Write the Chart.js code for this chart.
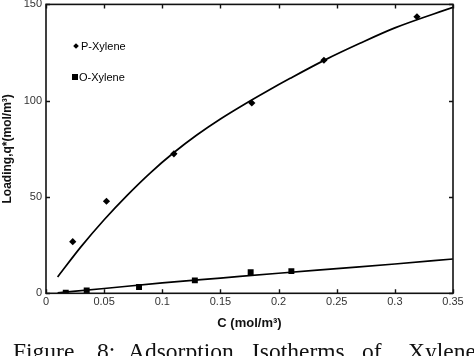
<!DOCTYPE html>
<html><head><meta charset="utf-8">
<script src="https://cdn.jsdelivr.net/npm/chart.js@4.4.1/dist/chart.umd.min.js"></script>
<style>
html,body{margin:0;padding:0;background:#fff;overflow:hidden;}
#wrap{position:relative;width:474px;height:356px;overflow:hidden;}
canvas{position:absolute;left:0;top:0;}
.leg{position:absolute;font:11px "Liberation Sans",Arial,sans-serif;color:#000;line-height:12px;white-space:nowrap;}
.mk{position:absolute;background:#000;}
.cap{position:absolute;top:339px;font:23.5px/24px "Liberation Serif","Times New Roman",serif;color:#111;white-space:nowrap;}
</style></head><body>
<div id="wrap">
<canvas id="c" width="474" height="356"></canvas>
<div class="mk" style="left:74px;top:44px;width:4px;height:4px;transform:rotate(45deg);"></div>
<div class="leg" style="left:81px;top:40px;">P-Xylene</div>
<div class="mk" style="left:72px;top:74px;width:6px;height:6px;"></div>
<div class="leg" style="left:79px;top:71px;">O-Xylene</div>
<div class="cap" style="left:13px;">Figure</div>
<div class="cap" style="left:97px;">8:</div>
<div class="cap" style="left:128px;">Adsorption</div>
<div class="cap" style="left:252px;">Isotherms</div>
<div class="cap" style="left:362px;">of</div>
<div class="cap" style="left:408px;">Xylene</div>
</div>
<script>
// Measured data (P-Xylene diamonds, O-Xylene squares)
const pxC = [0.023, 0.052, 0.110, 0.177, 0.239, 0.319];
const pxQ = [26.8, 47.8, 72.4, 98.8, 121.0, 143.6];
const oxC = [0.017, 0.035, 0.080, 0.128, 0.176, 0.211];
const oxQ = [0.3, 1.5, 3.3, 6.7, 10.9, 11.5];
// Fitted curves
const pFitC = [0.01, 0.03, 0.05, 0.07, 0.09, 0.11, 0.13, 0.15, 0.17, 0.19, 0.21, 0.24, 0.27, 0.30, 0.35];
const pFitQ = [8.5, 24.1, 38.2, 51.0, 62.7, 73.1, 82.3, 90.5, 97.9, 104.9, 111.6, 121.2, 129.8, 137.8, 148.5];
const oFitC = [0.01, 0.05, 0.1, 0.15, 0.2, 0.25, 0.3, 0.35];
const oFitQ = [0.2, 2.5, 5.4, 7.9, 10.4, 12.8, 15.2, 17.8];
// Ticks
const xTicks = [0, 0.05, 0.1, 0.15, 0.2, 0.25, 0.3, 0.35];
const xTickLabels = ['0', '0.05', '0.1', '0.15', '0.2', '0.25', '0.3', '0.35'];
const yTicks = [0, 50, 100, 150];
const yTickLabels = ['0', '50', '100', '150'];

const pts = (xs, ys) => xs.map((v, i) => ({x: v, y: ys[i]}));

const framePlugin = {
  id: 'frame',
  afterDatasetsDraw(chart) {
    const {ctx, chartArea: a, scales: {x, y}} = chart;
    ctx.save();
    ctx.strokeStyle = '#111';
    ctx.lineWidth = 1.6;
    ctx.strokeRect(a.left, a.top, a.right - a.left, a.bottom - a.top);
    ctx.lineWidth = 1.4;
    const L = 4;
    ctx.beginPath();
    x.ticks.forEach(t => {
      const px = Math.round(x.getPixelForValue(t.value)) + 0.5;
      ctx.moveTo(px, a.bottom); ctx.lineTo(px, a.bottom - L);
      ctx.moveTo(px, a.top); ctx.lineTo(px, a.top + L);
    });
    y.ticks.forEach(t => {
      const py = Math.round(y.getPixelForValue(t.value)) + 0.5;
      ctx.moveTo(a.left, py); ctx.lineTo(a.left + L, py);
      ctx.moveTo(a.right, py); ctx.lineTo(a.right - L, py);
    });
    ctx.stroke();
    ctx.restore();
  }
};

new Chart(document.getElementById('c'), {
  type: 'scatter',
  data: {
    datasets: [
      {label: 'P-Xylene', data: pts(pxC, pxQ), pointStyle: 'rectRot', pointRadius: 3.6,
       backgroundColor: '#000', borderColor: '#000', borderWidth: 0, showLine: false},
      {label: 'O-Xylene', data: pts(oxC, oxQ), pointStyle: 'rect', pointRadius: 4.2,
       backgroundColor: '#000', borderColor: '#000', borderWidth: 0, showLine: false},
      {label: 'P fit', data: pts(pFitC, pFitQ), showLine: true, pointRadius: 0, borderColor: '#000',
       borderWidth: 1.7, cubicInterpolationMode: 'monotone', fill: false},
      {label: 'O fit', data: pts(oFitC, oFitQ), showLine: true, pointRadius: 0, borderColor: '#000',
       borderWidth: 1.7, cubicInterpolationMode: 'monotone', fill: false}
    ]
  },
  options: {
    responsive: false,
    animation: false,
    devicePixelRatio: 1,
    layout: {autoPadding: false, padding: {left: 0, right: 21, top: 4.4, bottom: 25.2}},
    plugins: {legend: {display: false}, tooltip: {enabled: false}, title: {display: false}},
    scales: {
      x: {
        type: 'linear', min: 0, max: 0.35,
        afterBuildTicks: s => { s.ticks = xTicks.map(v => ({value: v})); },
        afterFit: s => { s.height = 37.5; s.paddingLeft = 0; s.paddingRight = 0; },
        ticks: {callback: (v, i) => xTickLabels[i], font: {family: '"Liberation Sans", Arial, sans-serif', size: 11},
                color: '#333', padding: 2, maxRotation: 0, autoSkip: false},
        grid: {display: false, drawTicks: false, tickLength: 0},
        border: {display: false},
        title: {display: true, text: 'C (mol/m³)', color: '#111', padding: {top: 0, bottom: 0},
                font: {family: '"Liberation Sans", Arial, sans-serif', size: 13, weight: 'bold'}}
      },
      y: {
        type: 'linear', min: 0, max: 150,
        afterBuildTicks: s => { s.ticks = yTicks.map(v => ({value: v})); },
        afterFit: s => { s.width = 46; s.paddingTop = 0; s.paddingBottom = 0; },
        ticks: {callback: (v, i) => yTickLabels[i], font: {family: '"Liberation Sans", Arial, sans-serif', size: 11},
                color: '#333', padding: 4, autoSkip: false},
        grid: {display: false, drawTicks: false, tickLength: 0},
        border: {display: false},
        title: {display: true, text: 'Loading,q*(mol/m³)', color: '#111', padding: {top: 0, bottom: 0},
                font: {family: '"Liberation Sans", Arial, sans-serif', size: 12, weight: 'bold'}}
      }
    }
  },
  plugins: [framePlugin]
});
</script>
</body></html>
